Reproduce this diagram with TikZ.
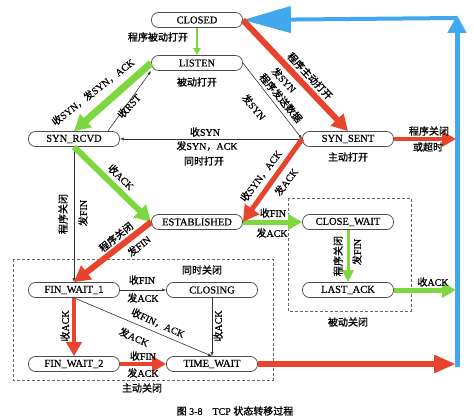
\documentclass[tikz,border=0pt]{standalone}
\usepackage{fontspec}
\setmainfont{Liberation Serif}[FakeBold=0.6]
\newfontfamily\cjk{Noto Sans CJK SC}[FakeBold=1.2]
\usetikzlibrary{arrows.meta,calc}
\newcommand\zh[1]{{\cjk #1}}
\definecolor{gr}{HTML}{7DD83F}
\definecolor{rd}{HTML}{E8432C}
\definecolor{bl}{HTML}{41A8EE}
\begin{document}
\begin{tikzpicture}[x=1pt,y=-1pt,
  state/.style={draw=black!70, line width=0.7pt, rounded corners=7pt, minimum width=91pt, minimum height=15pt, inner sep=0pt, font=\fontsize{10.5}{12}\selectfont, fill=white},
  thinarr/.style={draw=black!80, line width=0.6pt, -{Latex[length=4pt,width=3pt]}},
  fat/.style={line width=#1, -{Triangle[length=16pt,width=17pt]}},
  lbl/.style={font=\fontsize{10}{11}\selectfont, inner sep=0pt},
  box/.style={draw=black!60, line width=0.7pt, dash pattern=on 3pt off 2pt}]
\useasboundingbox (0,0) rectangle (474,420);
\fill[white] (0,0) rectangle (474,420);
% dashed boxes
\draw[box] (13,259) rectangle (273,380);
\draw[box] (288,198) rectangle (411,311);
% states
\node[state] (closed) at (197,20) {CLOSED};
\node[state] (listen) at (197,63) {LISTEN};
\node[state] (synrcvd) at (74,139) {SYN\_RCVD};
\node[state] (synsent) at (348,139) {SYN\_SENT};
\node[state] (estab) at (197,222) {ESTABLISHED};
\node[state] (closewait) at (348,222) {CLOSE\_WAIT};
\node[state] (lastack) at (348,290) {LAST\_ACK};
\node[state] (fw1) at (74,290) {FIN\_WAIT\_1};
\node[state] (closing) at (212,290) {CLOSING};
\node[state] (fw2) at (74,364) {FIN\_WAIT\_2};
\node[state] (timewait) at (212,364) {TIME\_WAIT};
\coordinate (b1) at (456,139);
\coordinate (b2) at (456,290);
\coordinate (b3) at (456,364);
\coordinate (bbot) at (457,367);
\coordinate (btopv) at (457,15);
\coordinate (btop) at (457,18);
% blue return path
\draw[bl, line width=5pt, -{Triangle[length=18pt,width=18pt]}] (bbot) -- (btopv);
\draw[bl, line width=4pt, -{Triangle[length=48pt,width=26pt]}] (btop) -- (closed.east);
% thin connectors
\draw[thinarr] ($(synrcvd.north east)+(-12,0)$) -- (listen.south west);
\draw[thinarr] (listen.east) -- (synsent.west);
\draw[thinarr] (synsent.west) -- (synrcvd.east);
\draw[thinarr] (synrcvd.south) -- (fw1.north);
\draw[thinarr] (fw1.east) -- (closing.west);
\draw[thinarr] (fw1.south) -- (timewait.north);
\draw[thinarr] (closing.south) -- (timewait.north);
% green connectors
\draw[gr, line width=2pt, -{Triangle[length=7pt,width=7pt]}] (closed.south) -- (listen.north);
\draw[gr, fat=7pt] (listen.west) -- (synrcvd.north);
\draw[gr, fat=6pt] (synrcvd.south) -- (estab.west);
\draw[gr, line width=5pt, -{Triangle[length=14pt,width=15pt]}] (estab.east) -- (closewait.west);
\draw[gr, line width=3pt, -{Triangle[length=12pt,width=11pt]}] (closewait.south) -- (lastack.north);
\draw[gr, line width=5pt, -{Triangle[length=14pt,width=15pt]}] (lastack.east) -- (b2);
% red connectors
\draw[rd, fat=6pt] (closed.east) -- (synsent.north);
\draw[rd, fat=5pt] (synsent.west) -- (estab.east);
\draw[rd, fat=6pt] (estab.west) -- (fw1.north);
\draw[rd, line width=4pt, -{Triangle[length=14pt,width=15pt]}] (synsent.east) -- (b1);
\draw[rd, line width=4pt, -{Triangle[length=14pt,width=15pt]}] (fw1.south) -- (fw2.north);
\draw[rd, line width=4pt, -{Triangle[length=14pt,width=15pt]}] (fw2.east) -- (timewait.west);
\draw[rd, line width=6pt, -{Triangle[length=22pt,width=17pt]}] (timewait.east) -- (b3);
% labels
\node[lbl] (t1) at (158,37) {\zh{程序被动打开}};
\node[lbl] (t2) at (197,82) {\zh{被动打开}};
\node[lbl, rotate=38] (t3) at (93,92) {\zh{收}SYN\zh{，发}SYN\zh{，}ACK};
\node[lbl, rotate=48] (t4) at (129,106) {\zh{收}RST};
\node[lbl, rotate=-46.6] (t5) at (310,76) {\zh{程序主动打开}};
\node[lbl, rotate=-46.6] (t6) at (284,80) {\zh{发}SYN};
\node[lbl, rotate=-50] (t7) at (281,98) {\zh{程序发送数据}};
\node[lbl, rotate=-50] (t8) at (254,107) {\zh{发}SYN};
\node[lbl] (t9) at (205,132) {\zh{收}SYN};
\node[lbl] (t10) at (207,146) {\zh{发}SYN\zh{，}ACK};
\node[lbl] (t11) at (204,161) {\zh{同时打开}};
\node[lbl] (t12) at (348,157) {\zh{主动打开}};
\node[lbl] (t13) at (429,131) {\zh{程序关闭}};
\node[lbl] (t14) at (428,147) {\zh{或超时}};
\node[lbl, rotate=-44] (t15) at (121,177) {\zh{收}ACK};
\node[lbl, rotate=90] (t16) at (63,214) {\zh{程序关闭}};
\node[lbl, rotate=90] (t17) at (83,213) {\zh{发}FIN};
\node[lbl, rotate=39] (t18) at (116,237) {\zh{程序关闭}};
\node[lbl, rotate=39] (t19) at (139,246) {\zh{发}FIN};
\node[lbl, rotate=53] (t20) at (261,176) {\zh{收}SYN\zh{，}ACK};
\node[lbl, rotate=53] (t21) at (286,182) {\zh{发}ACK};
\node[lbl] (t22) at (273,213) {\zh{收}FIN};
\node[lbl] (t23) at (272,233) {\zh{发}ACK};
\node[lbl, rotate=90] (t24) at (338,256) {\zh{程序关闭}};
\node[lbl, rotate=90] (t25) at (357,252) {\zh{发}FIN};
\node[lbl] (t26) at (433,282) {\zh{收}ACK};
\node[lbl] (t27) at (202,270) {\zh{同时关闭}};
\node[lbl] (t28) at (142,280) {\zh{收}FIN};
\node[lbl] (t29) at (143,298) {\zh{发}ACK};
\node[lbl, rotate=90] (t30) at (65,326) {\zh{收}ACK};
\node[lbl, rotate=-24] (t31) at (158,323) {\zh{收}FIN\zh{，}ACK};
\node[lbl, rotate=-24] (t32) at (134,337) {\zh{发}ACK};
\node[lbl, rotate=90] (t33) at (218,326) {\zh{收}ACK};
\node[lbl] (t34) at (143,356) {\zh{收}FIN};
\node[lbl] (t35) at (143,373) {\zh{发}ACK};
\node[lbl] (t36) at (142,388) {\zh{主动关闭}};
\node[lbl] (t37) at (348,322) {\zh{被动关闭}};
\node[lbl] (cap) at (235,411) {\zh{图} 3-8\quad TCP \zh{状态转移过程}};
\end{tikzpicture}
\end{document}
